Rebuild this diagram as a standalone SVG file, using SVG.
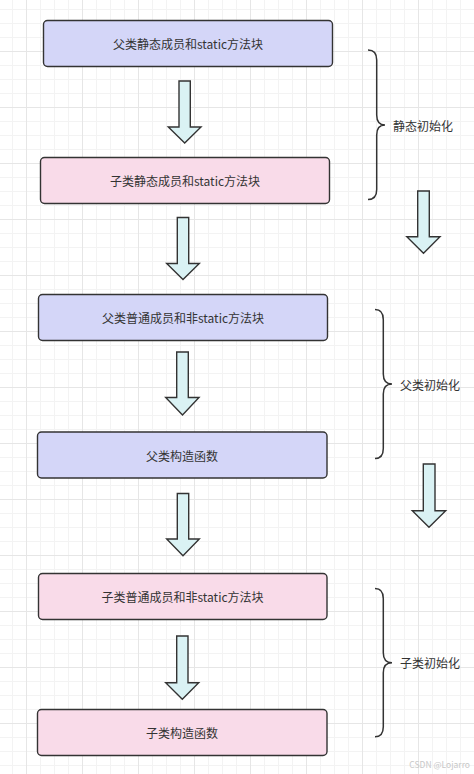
<svg xmlns="http://www.w3.org/2000/svg" width="474" height="774" viewBox="0 0 474 774">
  <style>
    .box { stroke: #333333; stroke-width: 1.4; }
    .parent { fill: #d4d6f8; }
    .child { fill: #f9dbe9; }
    .txt { font-family: "Noto Sans CJK SC", "Noto Sans", sans-serif; font-size: 12px; fill: #333333; text-anchor: middle; dominant-baseline: central; }
    .lbl { font-family: "Noto Sans CJK SC", "Noto Sans", sans-serif; font-size: 12px; fill: #333333; dominant-baseline: central; }
    .arrow { fill: #daf2f4; stroke: #333333; stroke-width: 1.4; stroke-linejoin: miter; }
    .brace { fill: none; stroke: #333333; stroke-width: 1.5; }
  </style>
  <defs>
    <pattern id="grid" patternUnits="userSpaceOnUse" x="-30" y="-5" width="56" height="56">
      <rect x="0" y="0" width="56" height="56" fill="#ffffff"/>
      <rect x="14" y="0" width="1" height="56" fill="#f3f3f3"/>
      <rect x="28" y="0" width="1" height="56" fill="#f3f3f3"/>
      <rect x="42" y="0" width="1" height="56" fill="#f3f3f3"/>
      <rect x="0" y="14" width="56" height="1" fill="#f3f3f3"/>
      <rect x="0" y="28" width="56" height="1" fill="#f3f3f3"/>
      <rect x="0" y="42" width="56" height="1" fill="#f3f3f3"/>
      <rect x="0" y="0" width="1" height="56" fill="#e6e6e6"/>
      <rect x="0" y="0" width="56" height="1" fill="#e6e6e6"/>
    </pattern>
  </defs>
  <rect x="0" y="0" width="474" height="774" fill="url(#grid)"/>

  <g id="node-parent-static">
    <rect class="box parent" x="43.5" y="20.5" width="289" height="46" rx="4"/>
    <text class="txt" x="188" y="43.5">父类静态成员和static方法块</text>
  </g>
  <g id="node-child-static">
    <rect class="box child" x="40.5" y="157.5" width="289" height="46" rx="4"/>
    <text class="txt" x="185" y="180.5">子类静态成员和static方法块</text>
  </g>
  <g id="node-parent-instance">
    <rect class="box parent" x="38.5" y="294.5" width="289" height="46" rx="4"/>
    <text class="txt" x="183" y="317.5">父类普通成员和非static方法块</text>
  </g>
  <g id="node-parent-ctor">
    <rect class="box parent" x="37.5" y="432" width="289.5" height="46" rx="4"/>
    <text class="txt" x="182" y="455">父类构造函数</text>
  </g>
  <g id="node-child-instance">
    <rect class="box child" x="38.5" y="573.5" width="288.5" height="46" rx="4"/>
    <text class="txt" x="182.5" y="596.5">子类普通成员和非static方法块</text>
  </g>
  <g id="node-child-ctor">
    <rect class="box child" x="37.5" y="709.5" width="289.5" height="46" rx="4"/>
    <text class="txt" x="182" y="732.5">子类构造函数</text>
  </g>

  <g id="connectors">
    <polygon class="arrow" points="179,81 190.3,81 190.3,127 201,127 184.7,143 168.3,127 179,127"/>
    <polygon class="arrow" points="177.3,217.5 188.7,217.5 188.7,263.5 199.3,263.5 183,279.5 166.7,263.5 177.3,263.5"/>
    <polygon class="arrow" points="176.7,352 188.3,352 188.3,397.5 199,397.5 182.5,415 165.7,397.5 176.7,397.5"/>
    <polygon class="arrow" points="177.3,493.5 188.7,493.5 188.7,539 199.3,539 183,555.7 166.7,539 177.3,539"/>
    <polygon class="arrow" points="176.7,636 188,636 188,682.7 198.7,682.7 182.3,699.3 165.7,682.7 176.7,682.7"/>
    <polygon class="arrow" points="417.7,191 429.3,191 429.3,236.7 440,236.7 423.5,253.3 406.8,236.7 417.7,236.7"/>
    <polygon class="arrow" points="423.3,464 435,464 435,510.7 445.7,510.7 429,527.3 412.3,510.7 423.3,510.7"/>
  </g>

  <g id="brace-static">
    <path class="brace" d="M368,50 Q376.7,50 376.7,60 L376.7,115 Q376.7,125 385,125 Q376.7,125 376.7,135 L376.7,189.5 Q376.7,199.5 368,199.5"/>
    <text class="lbl" x="393" y="125">静态初始化</text>
  </g>
  <g id="brace-parent">
    <path class="brace" d="M375,309.5 Q383.3,309.5 383.3,319.5 L383.3,374 Q383.3,384 392,384 Q383.3,384 383.3,394 L383.3,448.5 Q383.3,458.5 375,458.5"/>
    <text class="lbl" x="400" y="384">父类初始化</text>
  </g>
  <g id="brace-child">
    <path class="brace" d="M375,588.5 Q383.3,588.5 383.3,598.5 L383.3,652.7 Q383.3,662.7 392,662.7 Q383.3,662.7 383.3,672.7 L383.3,726.7 Q383.3,736.7 375,736.7"/>
    <text class="lbl" x="400" y="662.7">子类初始化</text>
  </g>

  <text x="470" y="764" text-anchor="end" dominant-baseline="central" font-family="Noto Sans CJK SC, Noto Sans, sans-serif" font-size="8.5" fill="#c8c8c8">CSDN @Lojarro</text>
</svg>
